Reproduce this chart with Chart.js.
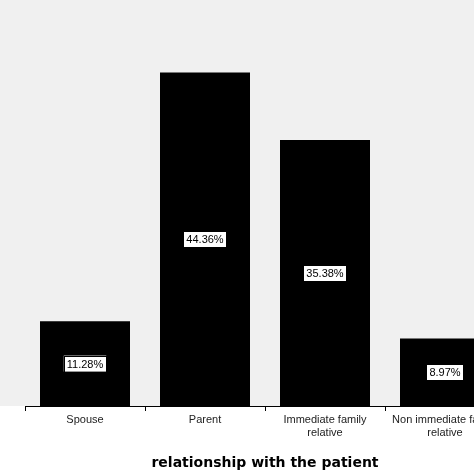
<!DOCTYPE html>
<html>
<head>
<script src="https://cdn.jsdelivr.net/npm/chart.js@4"></script>
<style>
  html, body { margin: 0; padding: 0; overflow: hidden; background: #fff; }
  #wrap { position: absolute; left: 0; top: 0; width: 520px; height: 474px; }
</style>
</head>
<body>
<div id="wrap"><canvas id="chart" width="520" height="474"></canvas></div>
<script>
const categories = ['Spouse', 'Parent', ['Immediate family', 'relative'], ['Non immediate family', 'relative']];
const percents = [11.28, 44.36, 35.38, 8.97];

// gray plot background across the full width
const plotBg = {
  id: 'plotBg',
  beforeDraw(chart) {
    const { ctx, chartArea } = chart;
    ctx.save();
    ctx.fillStyle = '#f0f0f0';
    ctx.fillRect(0, 0, chart.width, chartArea.bottom);
    ctx.restore();
  },
};

// boxed percentage labels in the middle of each bar
const boxLabels = {
  id: 'boxLabels',
  afterDatasetsDraw(chart) {
    const { ctx } = chart;
    const meta = chart.getDatasetMeta(0);
    ctx.save();
    ctx.font = '11px "Liberation Sans", Arial, sans-serif';
    ctx.textAlign = 'center';
    ctx.textBaseline = 'middle';
    meta.data.forEach((bar, i) => {
      const text = percents[i].toFixed(2) + '%';
      const y = (bar.y + bar.base) / 2;
      const w = ctx.measureText(text).width + 6;
      const h = 16;
      ctx.fillStyle = '#fff';
      ctx.fillRect(bar.x - w / 2, y - h / 2, w, h);
      ctx.strokeStyle = '#000';
      ctx.lineWidth = 1;
      ctx.strokeRect(Math.round(bar.x - w / 2) + 0.5, Math.round(y - h / 2) + 0.5, Math.round(w), h);
      ctx.fillStyle = '#000';
      ctx.fillText(text, bar.x, y + 1);
    });
    ctx.restore();
  },
};

new Chart(document.getElementById('chart'), {
  type: 'bar',
  data: {
    labels: categories,
    datasets: [{
      data: percents,
      backgroundColor: '#000',
      borderWidth: 0,
      barPercentage: 0.75,
      categoryPercentage: 1,
    }],
  },
  options: {
    responsive: false,
    animation: false,
    layout: { padding: { left: 25, right: 15, top: 0, bottom: 0 } },
    plugins: { legend: { display: false }, tooltip: { enabled: false } },
    scales: {
      y: { display: false, min: 0, max: 54 },
      x: {
        afterFit(scale) { scale.height = 68; },
        border: { display: true, color: '#000', width: 1 },
        grid: { display: true, drawOnChartArea: false, drawTicks: true, tickLength: 5, color: '#000' },
        ticks: {
          color: '#222',
          padding: 2,
          maxRotation: 0,
          autoSkip: false,
          font: { family: '"Liberation Sans", Arial, sans-serif', size: 11 },
        },
        title: {
          display: true,
          text: 'relationship with the patient',
          color: '#000',
          padding: { top: 12, bottom: 2 },
          font: { family: '"DejaVu Sans", sans-serif', size: 14, weight: 'bold' },
        },
      },
    },
  },
  plugins: [plotBg, boxLabels],
});
</script>
</body>
</html>
